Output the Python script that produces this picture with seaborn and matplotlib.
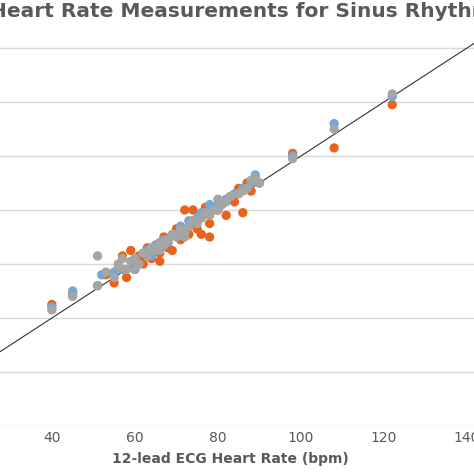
import matplotlib
matplotlib.use("Agg")
import matplotlib.pyplot as plt
import seaborn as sns
import pandas as pd

orange_x = [40,45,51,53,55,57,58,60,61,62,63,64,65,66,67,68,69,70,71,72,73,74,75,76,77,78,79,80,82,83,84,85,86,88,90,98,108,122,74,66,59,70,78,87]
orange_y = [45,49,52,56,53,63,55,58,63,60,66,62,67,64,70,66,65,72,69,80,71,76,73,71,81,75,80,80,78,85,83,88,79,87,90,101,103,119,80,61,65,73,70,90]
blue_x = [40,45,52,55,57,60,62,64,65,67,68,70,72,73,75,77,78,80,82,84,86,88,89,98,108,122,71,63,76]
blue_y = [44,50,56,57,58,61,64,63,67,69,68,71,72,76,77,79,82,82,84,86,88,90,93,100,112,122,74,65,79]
gray_x = [40,45,51,51,53,55,56,57,58,59,60,61,62,63,64,65,66,67,68,69,70,71,72,73,74,75,76,77,78,79,80,81,82,83,85,86,87,88,89,90,98,108,122,60,66,72,80,56]
gray_y = [43,48,52,63,57,55,59,62,58,61,62,60,64,63,66,65,68,67,69,71,70,73,72,74,76,75,77,79,78,80,80,82,83,85,86,87,88,91,92,90,99,110,123,58,65,70,84,60]

df = pd.concat([
    pd.DataFrame({"x": orange_x, "y": orange_y, "s": "a"}),
    pd.DataFrame({"x": blue_x, "y": blue_y, "s": "b"}),
    pd.DataFrame({"x": gray_x, "y": gray_y, "s": "c"}),
])

sns.set_style("white")
fig = plt.figure(figsize=(4.74, 4.74), dpi=100)
ax = fig.add_axes([0, 48/474, 1, 405/474])
ax.set_xlim(27.5, 141.7)
ax.set_ylim(0, 150)
for v in range(0, 160, 20):
    ax.axhline(v, color="#d9d9d9", lw=1, zorder=0)
ax.plot([0, 160], [0, 160], color="#333333", lw=0.8, zorder=1)
sns.scatterplot(data=df, x="x", y="y", hue="s", palette=["#e8641b", "#6fa8dc", "#a5a5a5"],
                s=45, edgecolor="none", legend=False, ax=ax, zorder=2)
for s in ax.spines.values():
    s.set_visible(False)
ax.set_xticks([40, 60, 80, 100, 120, 140])
ax.set_yticks([])
ax.tick_params(axis="x", length=0, labelsize=10, labelcolor="#595959")
ax.set_xlabel("")
ax.set_ylabel("")
fig.text(0.485, 0.024, "12-lead ECG Heart Rate (bpm)", ha="center", fontsize=10,
         fontweight="bold", color="#595959")
fig.text(0.51, 0.975, "Heart Rate Measurements for Sinus Rhythm", ha="center", va="center",
         fontsize=14.5, fontweight="bold", color="#595959")
fig.savefig("out.png", dpi=100)
